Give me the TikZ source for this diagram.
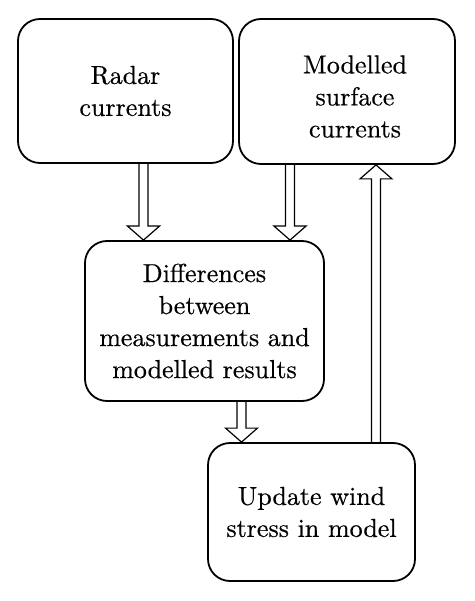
\documentclass[tikz,border=0pt]{standalone}
\usepackage{fontspec}
\setmainfont{lmroman10-regular}[Extension=.otf,
  BoldFont=lmroman10-regular, BoldFeatures={FakeBold=0.5}]
\usetikzlibrary{calc}
\begin{document}
\begin{tikzpicture}[x=1pt,y=-1pt,
  box/.style={draw, line width=1.8pt, rounded corners=22pt, align=center,
    font=\fontsize{26}{32}\selectfont\bfseries, inner sep=0pt},
  boxtext/.style={align=center, font=\fontsize{26}{32}\selectfont\bfseries, inner sep=0pt},
  hollowdown/.style={draw, line width=1.2pt, line join=miter,
    to path={let \p1=(\tikztostart), \p2=(\tikztotarget) in
      (\x1-4.5pt,\y1) -- (\x1-4.5pt,\y2+14pt) -- (\x1-16pt,\y2+14pt) -- (\x1,\y2)
      -- (\x1+16pt,\y2+14pt) -- (\x1+4.5pt,\y2+14pt) -- (\x1+4.5pt,\y1)}},
  hollowup/.style={draw, line width=1.2pt, line join=miter,
    to path={let \p1=(\tikztostart), \p2=(\tikztotarget) in
      (\x1-4.5pt,\y1) -- (\x1-4.5pt,\y2-14pt) -- (\x1-16pt,\y2-14pt) -- (\x1,\y2)
      -- (\x1+16pt,\y2-14pt) -- (\x1+4.5pt,\y2-14pt) -- (\x1+4.5pt,\y1)}}]
\useasboundingbox[fill=white] (0,0) rectangle (474,601);

\node[box, minimum width=215pt, minimum height=144pt] (A) at (125.5,91) {Radar\\currents};
\node[box, minimum width=216pt, minimum height=145pt] (B) at (347,91.5) {};
\node[boxtext] (Btext) at (355,96.5) {Modelled\\surface\\currents};
\node[box, minimum width=239pt, minimum height=160pt] (C) at (204.5,321)
  {Differences\\between\\measurements and\\modelled results};
\node[box, minimum width=207pt, minimum height=138pt] (D) at (311.5,512)
  {Update wind\\stress in model};

\draw[hollowdown] ([xshift=18pt]A.south) to ([xshift=18pt]A.south |- C.north);
\draw[hollowdown] ([xshift=-57pt]B.south) to ([xshift=-57pt]B.south |- C.north);
\draw[hollowdown] ([xshift=37pt]C.south) to ([xshift=37pt]C.south |- D.north);
\draw[hollowup] ([xshift=64.5pt]D.north) to ([xshift=64.5pt]D.north |- B.south);
\end{tikzpicture}
\end{document}
